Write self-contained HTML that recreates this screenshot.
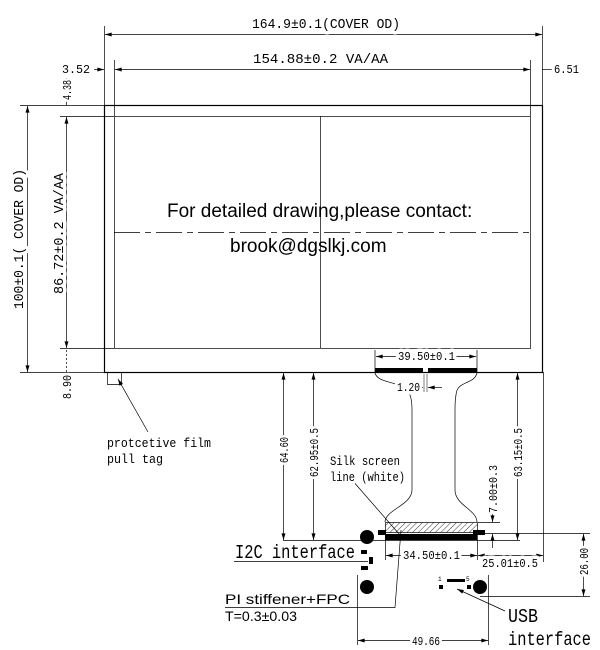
<!DOCTYPE html>
<html><head><meta charset="utf-8"><style>
html,body{margin:0;padding:0;background:#fff;}
svg{display:block;}
.m text{paint-order:stroke;stroke:#fff;stroke-width:7px;stroke-linejoin:round;}
.m{font-family:"Liberation Mono","DejaVu Sans Mono",monospace;}
.s{font-family:"Liberation Sans",Arial,sans-serif;}
</style></head><body>
<svg width="600" height="650" viewBox="0 0 600 650" xmlns="http://www.w3.org/2000/svg">
<defs>
<marker id="a" viewBox="0 0 10 6" refX="10" refY="3" markerWidth="10" markerHeight="4" orient="auto-start-reverse" markerUnits="userSpaceOnUse"><path d="M0,0L10,3L0,6z" fill="#000"/></marker>
<pattern id="h" width="4" height="4" patternUnits="userSpaceOnUse" patternTransform="rotate(45)"><line x1="0" y1="0" x2="0" y2="4" stroke="#000" stroke-width="0.8"/></pattern>
</defs>
<g stroke="#000" fill="none" stroke-width="0.7">
<rect x="104.5" y="105.5" width="438" height="267" stroke-width="1.2"/>
<rect x="114.5" y="116.5" width="416" height="232"/>
<line x1="320.5" y1="116" x2="320.5" y2="348"/>
<line x1="114" y1="232.5" x2="530" y2="232.5" stroke-dasharray="26,5,6,5"/>
<line x1="104.5" y1="26" x2="104.5" y2="105"/>
<line x1="542.5" y1="26" x2="542.5" y2="105"/>
<line x1="105" y1="34.5" x2="542" y2="34.5" marker-start="url(#a)" marker-end="url(#a)"/>
<line x1="114.5" y1="60" x2="114.5" y2="116"/>
<line x1="530.5" y1="60" x2="530.5" y2="116"/>
<line x1="115" y1="69.5" x2="530" y2="69.5" marker-start="url(#a)" marker-end="url(#a)"/>
<line x1="94" y1="69.5" x2="104" y2="69.5" marker-end="url(#a)"/>
<line x1="542" y1="69.5" x2="552" y2="69.5"/>
<line x1="20" y1="105.5" x2="104" y2="105.5"/>
<line x1="20" y1="372.5" x2="104" y2="372.5"/>
<line x1="27.5" y1="106" x2="27.5" y2="372" marker-start="url(#a)" marker-end="url(#a)"/>
<line x1="60" y1="116.5" x2="114" y2="116.5"/>
<line x1="60" y1="348.5" x2="114" y2="348.5"/>
<line x1="66.5" y1="117" x2="66.5" y2="348" marker-start="url(#a)" marker-end="url(#a)"/>
<line x1="66.5" y1="78" x2="66.5" y2="105"/>
<line x1="66.5" y1="350" x2="66.5" y2="372" stroke-dasharray="2,2"/>
<line x1="66.5" y1="372" x2="66.5" y2="380"/>
<path d="M107.5,372 V384.5 H121.5 V372"/>
<line x1="148" y1="432" x2="118" y2="379" marker-end="url(#a)"/>
<line x1="375" y1="350" x2="375" y2="372"/>
<line x1="477" y1="350" x2="477" y2="372"/>
<line x1="376" y1="356.5" x2="476" y2="356.5" marker-start="url(#a)" marker-end="url(#a)"/>
<path d="M375,373 C378,385 405,380 410,395 C412,400 412,405 412,410 V490 C412,505 385,510 385,522"/>
<path d="M477,373 C474,385 457,380 456,395 C455,400 455,405 455,410 V490 C455,505 477,510 477,522"/>
<line x1="424" y1="374" x2="424" y2="392" stroke-width="0.5"/>
<line x1="427" y1="374" x2="427" y2="392" stroke-width="0.5"/>
<line x1="414" y1="387.5" x2="423" y2="387.5" marker-end="url(#a)"/>
<line x1="442" y1="387.5" x2="428" y2="387.5" marker-end="url(#a)"/>
<rect x="385.5" y="522.5" width="92" height="10" fill="url(#h)"/>
<line x1="283.5" y1="373" x2="283.5" y2="540" marker-start="url(#a)" marker-end="url(#a)"/>
<line x1="313.5" y1="373" x2="313.5" y2="540" marker-start="url(#a)" marker-end="url(#a)"/>
<line x1="517.5" y1="373" x2="517.5" y2="540" marker-start="url(#a)" marker-end="url(#a)"/>
<line x1="283" y1="540.5" x2="520" y2="540.5"/>
<line x1="478" y1="522.5" x2="500" y2="522.5"/>
<line x1="478" y1="533.5" x2="590" y2="533.5"/>
<line x1="492.5" y1="505" x2="492.5" y2="522" marker-end="url(#a)"/>
<line x1="492.5" y1="548" x2="492.5" y2="534" marker-end="url(#a)"/>
<line x1="543.5" y1="372" x2="543.5" y2="562"/>
<line x1="583.5" y1="534" x2="583.5" y2="596" marker-start="url(#a)" marker-end="url(#a)"/>
<line x1="480" y1="596.5" x2="590" y2="596.5"/>
<line x1="385.5" y1="540" x2="385.5" y2="560"/>
<line x1="477.5" y1="533" x2="477.5" y2="560"/>
<line x1="386" y1="555.5" x2="477" y2="555.5" marker-start="url(#a)" marker-end="url(#a)"/>
<line x1="478" y1="555.5" x2="543" y2="555.5" marker-start="url(#a)" marker-end="url(#a)"/>
<line x1="357.5" y1="575" x2="357.5" y2="645"/>
<line x1="488.5" y1="575" x2="488.5" y2="645"/>
<line x1="358" y1="640.5" x2="488" y2="640.5" marker-start="url(#a)" marker-end="url(#a)"/>
<line x1="234" y1="561.5" x2="368" y2="561.5"/>
<line x1="352" y1="480" x2="400" y2="535"/>
<path d="M225,607.5 H395 L401,530"/>
<line x1="505" y1="611" x2="457" y2="589" marker-end="url(#a)"/>
</g>
<g fill="#000">
<rect x="375" y="368" width="48" height="4"/>
<rect x="428" y="368" width="49" height="4"/>
<rect x="385" y="534" width="92" height="6"/>
<rect x="378" y="530" width="8" height="5"/>
<rect x="473" y="530" width="12" height="5"/>
<circle cx="367" cy="537" r="7"/>
<circle cx="367" cy="587" r="7"/>
<circle cx="480" cy="587" r="7"/>
<rect x="361" y="550" width="6" height="4"/>
<rect x="369" y="557" width="4" height="7"/>
<rect x="361" y="566" width="7" height="4"/>
<rect x="439" y="585" width="4" height="4"/>
<rect x="447" y="579" width="18" height="3"/>
<rect x="467" y="585" width="4" height="4"/>
</g>
<g class="m" font-size="14" fill="#000">
<text x="252" y="28" textLength="148" lengthAdjust="spacingAndGlyphs">164.9±0.1(COVER OD)</text>
<text x="253" y="63" textLength="135" lengthAdjust="spacingAndGlyphs">154.88±0.2  VA/AA</text>
<text x="62" y="73" font-size="12" textLength="28" lengthAdjust="spacingAndGlyphs">3.52</text>
<text x="554" y="73" font-size="12" textLength="25" lengthAdjust="spacingAndGlyphs">6.51</text>
<text transform="translate(71,100) rotate(-90)" font-size="12" textLength="20" lengthAdjust="spacingAndGlyphs">4.38</text>
<text transform="translate(71,399) rotate(-90)" font-size="12" textLength="24" lengthAdjust="spacingAndGlyphs">8.90</text>
<text transform="translate(23,309) rotate(-90)" textLength="140" lengthAdjust="spacingAndGlyphs">100±0.1( COVER OD)</text>
<text transform="translate(63,294) rotate(-90)" textLength="121" lengthAdjust="spacingAndGlyphs">86.72±0.2 VA/AA</text>
<text x="107" y="447" font-size="13" textLength="104" lengthAdjust="spacingAndGlyphs">protcetive film</text>
<text x="107" y="463" font-size="13" textLength="56" lengthAdjust="spacingAndGlyphs">pull tag</text>
<text x="398" y="360" font-size="12" textLength="57" lengthAdjust="spacingAndGlyphs">39.50±0.1</text>
<text x="397" y="391" font-size="12" textLength="23" lengthAdjust="spacingAndGlyphs">1.20</text>
<text transform="translate(288,463) rotate(-90)" font-size="12" textLength="26" lengthAdjust="spacingAndGlyphs">64.60</text>
<text transform="translate(318,477) rotate(-90)" font-size="12" textLength="49" lengthAdjust="spacingAndGlyphs">62.95±0.5</text>
<text transform="translate(522,477) rotate(-90)" font-size="12" textLength="49" lengthAdjust="spacingAndGlyphs">63.15±0.5</text>
<text transform="translate(497,513) rotate(-90)" font-size="12" textLength="48" lengthAdjust="spacingAndGlyphs">7.00±0.3</text>
<text transform="translate(588,575) rotate(-90)" font-size="12" textLength="27" lengthAdjust="spacingAndGlyphs">26.00</text>
<text x="330" y="465" font-size="13" textLength="70" lengthAdjust="spacingAndGlyphs">Silk screen</text>
<text x="330" y="481" font-size="13" textLength="75" lengthAdjust="spacingAndGlyphs">line (white)</text>
<text x="403" y="559" font-size="12" textLength="57" lengthAdjust="spacingAndGlyphs">34.50±0.1</text>
<text x="482" y="567" font-size="12" textLength="56" lengthAdjust="spacingAndGlyphs">25.01±0.5</text>
<text x="412" y="645" font-size="12" textLength="28" lengthAdjust="spacingAndGlyphs">49.66</text>
<text x="235" y="558" font-size="19" textLength="120" lengthAdjust="spacingAndGlyphs" style="stroke-width:4px">I2C interface</text>
<text x="508" y="622" font-size="19" textLength="30" lengthAdjust="spacingAndGlyphs">USB</text>
<text x="508" y="645" font-size="19" textLength="83" lengthAdjust="spacingAndGlyphs">interface</text>
<text x="438" y="581" font-size="6" style="stroke-width:0">1</text>
<text x="466" y="581" font-size="6" style="stroke-width:0">5</text>
</g>
<g class="s" fill="#000">
<text x="167" y="217" font-size="19">For detailed drawing,please contact:</text>
<text x="230" y="252" font-size="19">brook@dgslkj.com</text>
<text x="225" y="604" font-size="14" textLength="125" lengthAdjust="spacingAndGlyphs">PI stiffener+FPC</text>
<text x="225" y="621" font-size="14" textLength="72" lengthAdjust="spacingAndGlyphs">T=0.3±0.03</text>
</g>
</svg>
</body></html>
